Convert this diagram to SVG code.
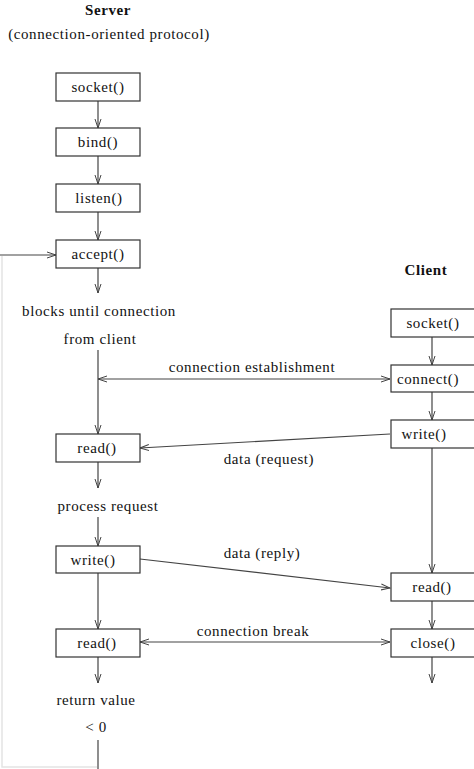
<svg xmlns="http://www.w3.org/2000/svg" width="474" height="769" viewBox="0 0 474 769">
<style>
.box{fill:#fff;stroke:#333;stroke-width:1.2}
.t{font-family:"Liberation Serif",serif;font-size:15px;letter-spacing:0.6px;fill:#111;text-anchor:middle}
.h{font-weight:bold}
.c{stroke:#444;stroke-width:1.2;fill:none}
.e{marker-end:url(#a)}
.s{marker-start:url(#a2)}
.faint{stroke:#e4e4e4;stroke-width:1.5;fill:none}
</style>
<defs>
<marker id="a" markerWidth="10" markerHeight="8" refX="9" refY="4" orient="auto" markerUnits="userSpaceOnUse">
<polyline points="0,1 9,4 0,7" fill="none" stroke="#444" stroke-width="1"/>
</marker>
<marker id="a2" markerWidth="10" markerHeight="8" refX="1" refY="4" orient="auto" markerUnits="userSpaceOnUse">
<polyline points="10,1 1,4 10,7" fill="none" stroke="#444" stroke-width="1"/>
</marker>
</defs>
<rect width="474" height="769" fill="#fff"/>
<g id="labels">
<text class="t h" x="108" y="15">Server</text>
<text class="t" x="109" y="39">(connection-oriented protocol)</text>
<text class="t h" x="426" y="275">Client</text>
<text class="t" x="99" y="316">blocks until connection</text>
<text class="t" x="100" y="344">from client</text>
<text class="t" x="252" y="372">connection establishment</text>
<text class="t" x="269" y="464">data (request)</text>
<text class="t" x="108" y="511">process request</text>
<text class="t" x="262" y="558">data (reply)</text>
<text class="t" x="253" y="636">connection break</text>
<text class="t" x="96" y="705">return value</text>
<text class="t" x="96" y="732">&lt; 0</text>
</g>
<g id="connectors">
<line class="c e" x1="98" y1="101" x2="98" y2="128"/>
<line class="c e" x1="98" y1="156" x2="98" y2="184"/>
<line class="c e" x1="98" y1="212" x2="98" y2="240"/>
<line class="c e" x1="98" y1="268" x2="98" y2="293"/>
<line class="c e" x1="98" y1="350" x2="98" y2="434"/>
<line class="c e" x1="98" y1="462" x2="98" y2="488"/>
<line class="c e" x1="98" y1="517" x2="98" y2="546"/>
<line class="c e" x1="98" y1="573" x2="98" y2="629"/>
<line class="c e" x1="98" y1="657" x2="98" y2="683"/>
<line class="c" x1="98" y1="740" x2="98" y2="769"/>
<line class="c e" x1="0" y1="255" x2="56" y2="255"/>
<polyline class="faint" points="2,256 2,767 97,767"/>
<line class="c e s" x1="98" y1="379" x2="390" y2="379"/>
<line class="c e" x1="390" y1="434" x2="140" y2="448"/>
<line class="c e" x1="140" y1="559" x2="390" y2="588"/>
<line class="c e s" x1="140" y1="642" x2="390" y2="642"/>
<line class="c e" x1="432" y1="337" x2="432" y2="365"/>
<line class="c e" x1="432" y1="392" x2="432" y2="420"/>
<line class="c e" x1="432" y1="448" x2="432" y2="573"/>
<line class="c e" x1="432" y1="601" x2="432" y2="629"/>
<line class="c e" x1="432" y1="657" x2="432" y2="683"/>
</g>
<g id="s_socket"><rect class="box" x="56" y="73" width="84" height="28"/><text class="t" x="98" y="92">socket()</text></g>
<g id="s_bind"><rect class="box" x="56" y="128" width="84" height="28"/><text class="t" x="98" y="147">bind()</text></g>
<g id="s_listen"><rect class="box" x="56" y="184" width="84" height="28"/><text class="t" x="99" y="203">listen()</text></g>
<g id="s_accept"><rect class="box" x="56" y="240" width="84" height="28"/><text class="t" x="98" y="259">accept()</text></g>
<g id="s_read1"><rect class="box" x="56" y="434" width="84" height="28"/><text class="t" x="97" y="453">read()</text></g>
<g id="s_write"><rect class="box" x="56" y="546" width="84" height="27"/><text class="t" x="93" y="565">write()</text></g>
<g id="s_read2"><rect class="box" x="56" y="629" width="84" height="28"/><text class="t" x="97" y="648">read()</text></g>
<g id="c_socket"><rect class="box" x="391" y="309" width="84" height="28"/><text class="t" x="433" y="328">socket()</text></g>
<g id="c_connect"><rect class="box" x="391" y="365" width="84" height="27"/><text class="t" x="428" y="384">connect()</text></g>
<g id="c_write"><rect class="box" x="391" y="420" width="84" height="28"/><text class="t" x="424" y="439">write()</text></g>
<g id="c_read"><rect class="box" x="391" y="573" width="84" height="28"/><text class="t" x="432" y="592">read()</text></g>
<g id="c_close"><rect class="box" x="391" y="629" width="84" height="28"/><text class="t" x="433" y="648">close()</text></g>
</svg>
